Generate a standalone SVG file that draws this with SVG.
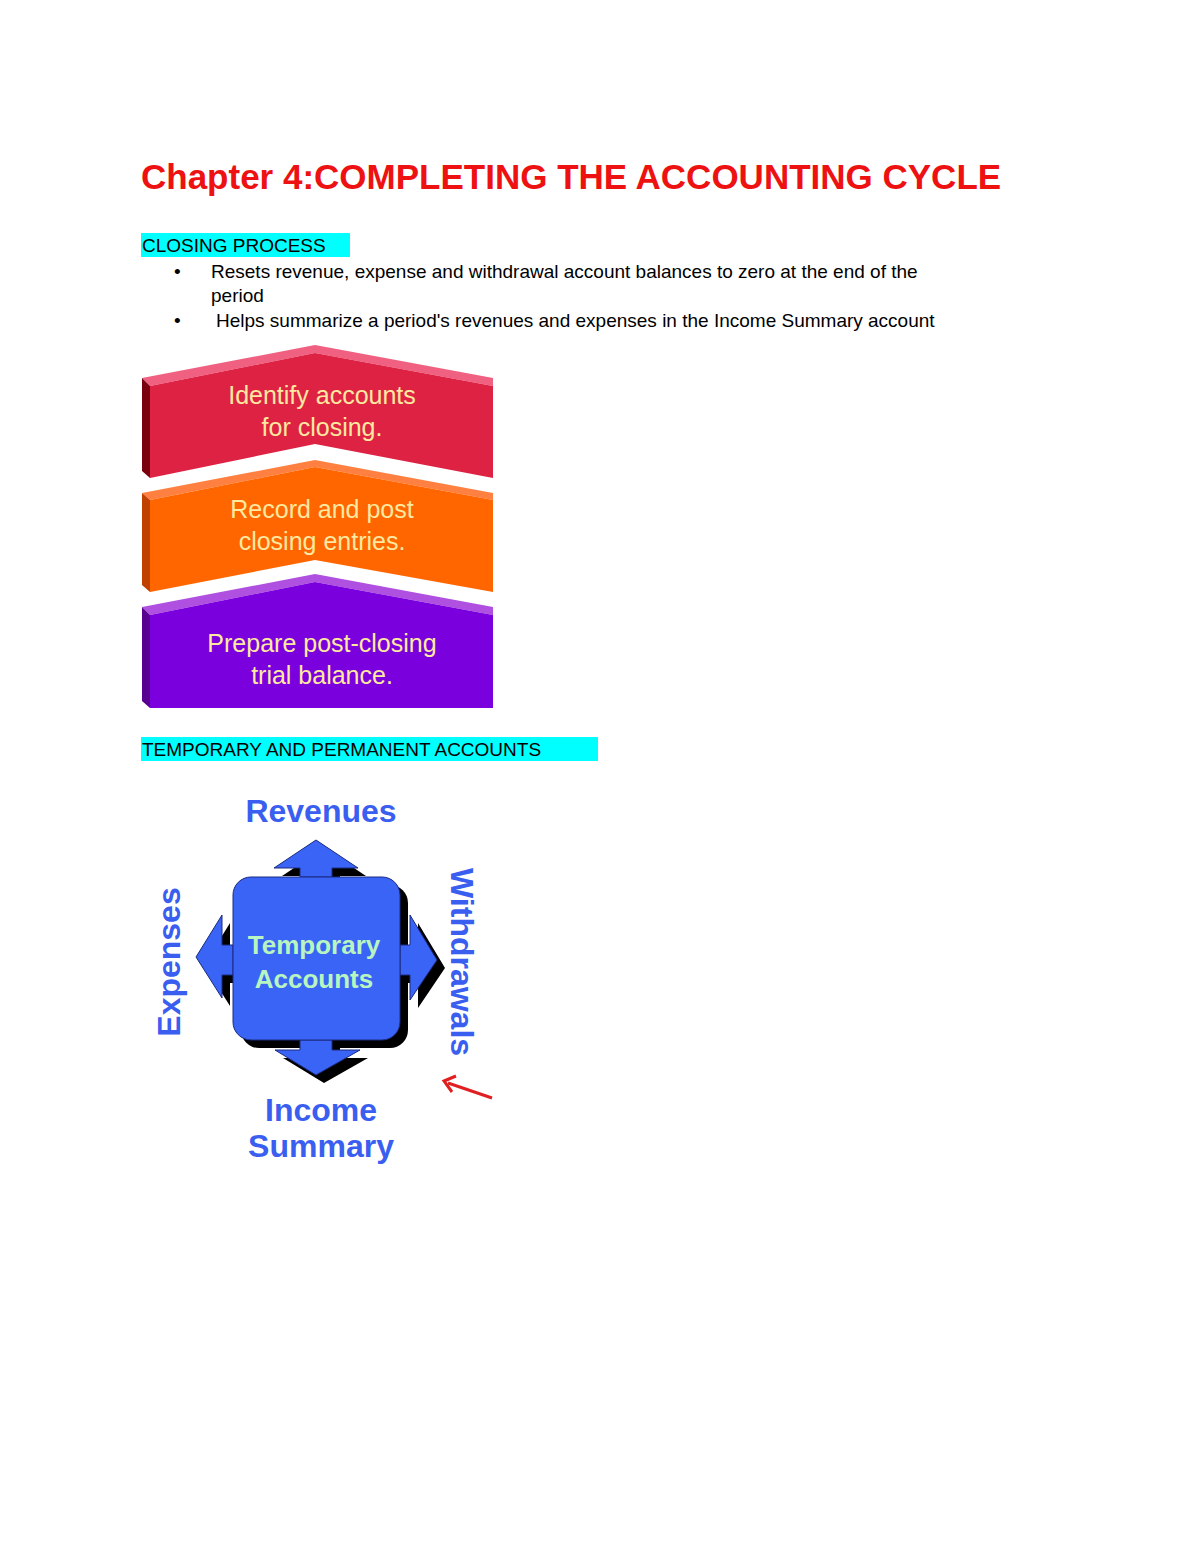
<svg xmlns="http://www.w3.org/2000/svg" width="1200" height="1553" viewBox="0 0 1200 1553">
<style>
.t{font-family:"Liberation Sans",Arial,sans-serif}
.b{font-size:19px;fill:#000}
.c{font-size:25px;fill:#fde9a0;text-anchor:middle}
.bl{font-size:32px;font-weight:bold;fill:#3a5ef0;text-anchor:middle}
</style>
<rect width="1200" height="1553" fill="#fff"/>
<text class="t" x="141" y="189" font-size="35" font-weight="bold" fill="#ee1111">Chapter 4:COMPLETING THE ACCOUNTING CYCLE</text>
<rect x="141" y="233" width="209" height="24" fill="#00ffff"/>
<text class="t b" x="142" y="252">CLOSING PROCESS</text>
<text class="t b" x="174" y="278">•</text>
<text class="t b" x="211" y="278">Resets revenue, expense and withdrawal account balances to zero at the end of the</text>
<text class="t b" x="211" y="302">period</text>
<text class="t b" x="174" y="327">•</text>
<text class="t b" x="216" y="327">Helps summarize a period's revenues and expenses in the Income Summary account</text>
<g id="step1">
<polygon points="142,378 315,345 493,378 493,386 315,353 150,386" fill="#f06080"/>
<polygon points="142,378 150,386 150,478 142,471" fill="#7a0010"/>
<polygon points="150,386 315,353 493,386 493,478 315,444 150,478" fill="#dd2244"/>
<text class="t c" x="322" y="404">Identify accounts</text>
<text class="t c" x="322" y="436">for closing.</text>
</g>
<g id="step2">
<polygon points="142,493 315,460 493,493 493,500 315,467 150,500" fill="#ff8040"/>
<polygon points="142,493 150,500 150,592 142,585" fill="#c04000"/>
<polygon points="150,500 315,467 493,500 493,592 315,560 150,592" fill="#ff6600"/>
<text class="t c" x="322" y="518">Record and post</text>
<text class="t c" x="322" y="550">closing entries.</text>
</g>
<g id="step3">
<polygon points="142,607 315,574 493,607 493,615 315,582 150,615" fill="#b050e0"/>
<polygon points="142,607 150,615 150,708 142,701" fill="#5a0090"/>
<polygon points="150,615 315,582 493,615 493,708 150,708" fill="#7a00dd"/>
<text class="t c" x="322" y="652">Prepare post-closing</text>
<text class="t c" x="322" y="684">trial balance.</text>
</g>
<rect x="141" y="737" width="457" height="24" fill="#00ffff"/>
<text class="t b" x="142" y="756">TEMPORARY AND PERMANENT ACCOUNTS</text>
<g id="temp">
<g transform="translate(8,8)" fill="#000">
<rect x="233" y="877" width="167" height="163" rx="18"/>
<polygon points="316,840 358,868 332,868 332,877 300,877 300,868 274,868"/>
<polygon points="316,1075 360,1050 332,1050 332,1040 300,1040 300,1050 275,1050"/>
<polygon points="196,957 222,915 222,945 233,945 233,975 222,975 222,998"/>
<polygon points="437,960 410,915 410,945 400,945 400,975 410,975 410,1000"/>
</g>
<g fill="#3a64f5" stroke="#1a2a80" stroke-width="1">
<polygon points="316,840 358,868 332,868 332,877 300,877 300,868 274,868"/>
<polygon points="316,1075 360,1050 332,1050 332,1040 300,1040 300,1050 275,1050"/>
<polygon points="196,957 222,915 222,945 233,945 233,975 222,975 222,998"/>
<polygon points="437,960 410,915 410,945 400,945 400,975 410,975 410,1000"/>
<rect x="233" y="877" width="167" height="163" rx="18"/>
</g>
<text class="t" x="314" y="954" font-size="26" font-weight="bold" fill="#b8f5c0" text-anchor="middle">Temporary</text>
<text class="t" x="314" y="988" font-size="26" font-weight="bold" fill="#b8f5c0" text-anchor="middle">Accounts</text>
</g>
<text class="t bl" x="321" y="822">Revenues</text>
<text class="t bl" x="321" y="1121">Income</text>
<text class="t bl" x="321" y="1157">Summary</text>
<text class="t bl" transform="translate(180,962) rotate(-90)">Expenses</text>
<text class="t bl" transform="translate(451,962) rotate(90)">Withdrawals</text>
<g id="connectors">
<line x1="492" y1="1098" x2="448" y2="1083" stroke="#e02020" stroke-width="3"/>
<polyline points="456,1076 444,1081 452,1092" fill="none" stroke="#e02020" stroke-width="3"/>
</g>
</svg>
